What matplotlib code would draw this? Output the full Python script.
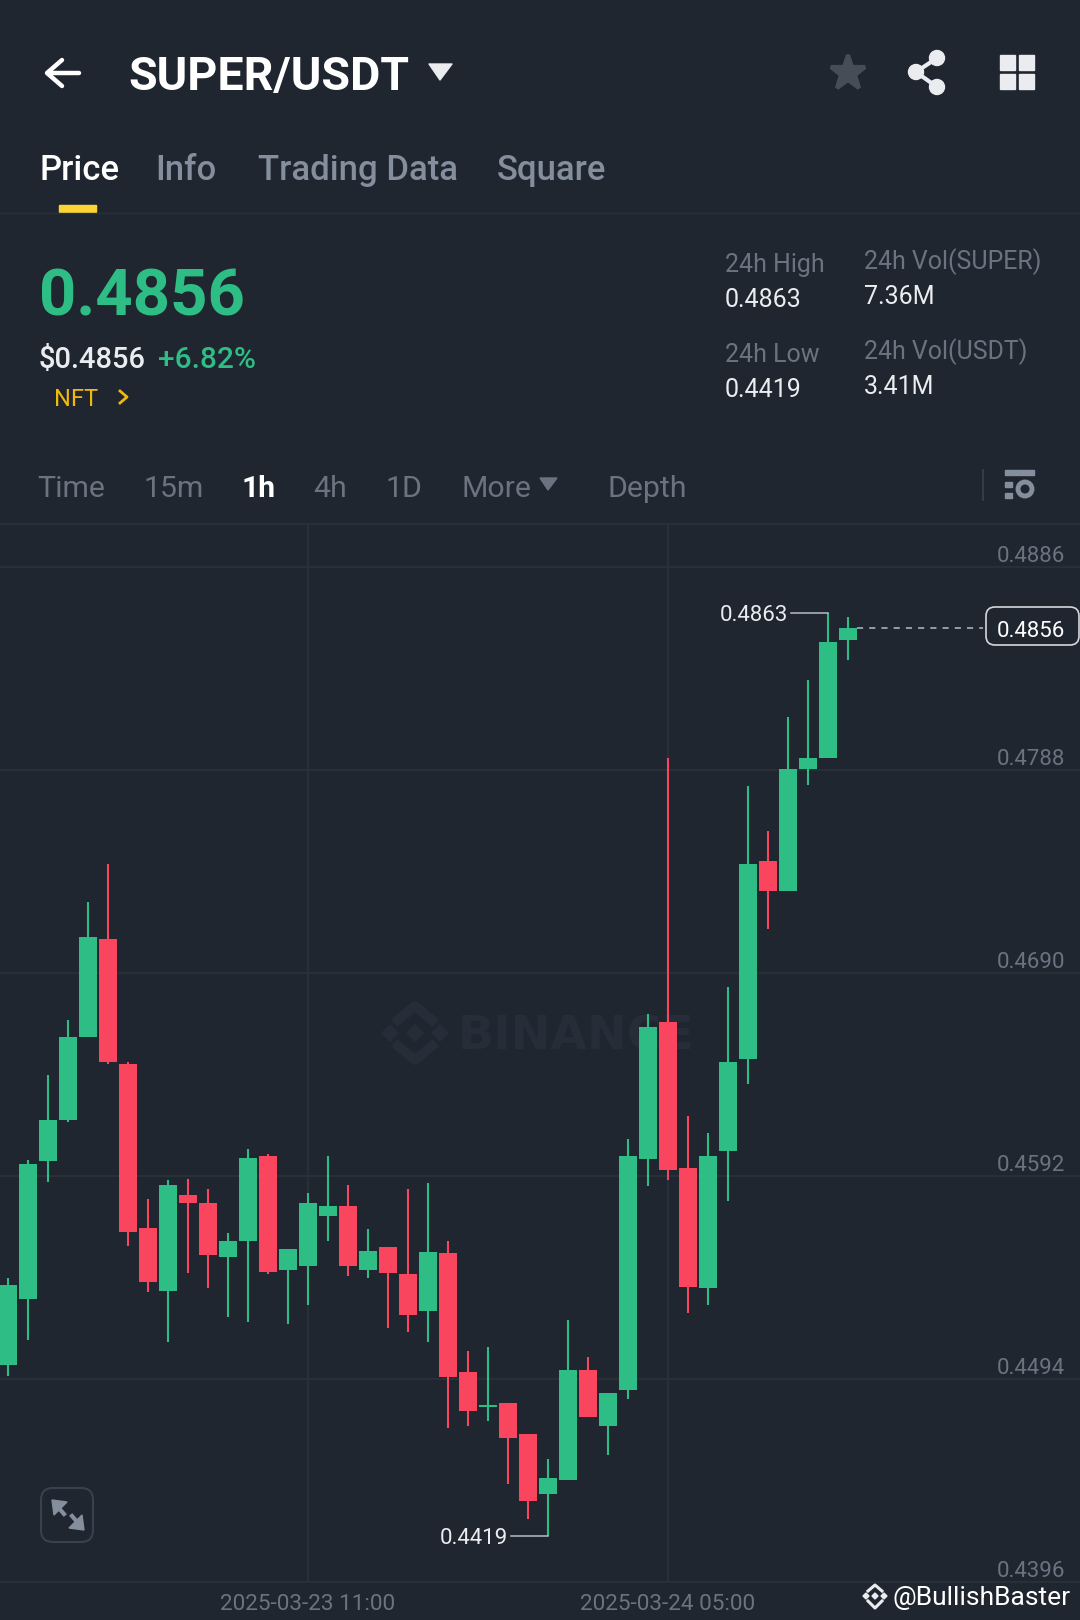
#!/usr/bin/env python3
import matplotlib
matplotlib.use("Agg")
import matplotlib.pyplot as plt
from matplotlib.patches import Circle, FancyBboxPatch, Polygon, Rectangle

# candles, oldest first (1h)
opens = [0.45005, 0.45327, 0.45989, 0.46187, 0.46591, 0.47061, 0.46460, 0.45667, 0.45365, 0.45827,
         0.45787, 0.45527, 0.45606, 0.46017, 0.45467, 0.45486, 0.45727, 0.45775, 0.45467, 0.45575,
         0.45446, 0.45265, 0.45546, 0.44973, 0.44804, 0.44823, 0.44672, 0.44382, 0.44453, 0.44984,
         0.44713, 0.44885, 0.45999, 0.46660, 0.45956, 0.45377, 0.46039, 0.46481, 0.47441, 0.47294,
         0.47885, 0.47936, 0.48507]
highs = [0.45424, 0.45998, 0.46408, 0.46670, 0.47241, 0.47423, 0.46468, 0.45806, 0.45898, 0.45906,
         0.45858, 0.45644, 0.46048, 0.46027, 0.45565, 0.45837, 0.46017, 0.45877, 0.45665, 0.45575,
         0.45858, 0.45887, 0.45606, 0.45073, 0.45092, 0.44823, 0.44672, 0.44551, 0.45225, 0.45044,
         0.44872, 0.46096, 0.46699, 0.47936, 0.46208, 0.46127, 0.46832, 0.47803, 0.47584, 0.48136,
         0.48315, 0.48638, 0.48616]
lows = [0.44955, 0.45127, 0.45889, 0.46179, 0.46591, 0.46460, 0.45579, 0.45358, 0.45117, 0.45448,
        0.45377, 0.45237, 0.45215, 0.45446, 0.45205, 0.45296, 0.45606, 0.45437, 0.45427, 0.45187,
        0.45165, 0.45117, 0.44704, 0.44713, 0.44734, 0.44432, 0.44263, 0.44182, 0.44453, 0.44754,
        0.44573, 0.44844, 0.45868, 0.45898, 0.45256, 0.45294, 0.45798, 0.46361, 0.47113, 0.47294,
        0.47807, 0.47936, 0.48409]
closes = [0.45394, 0.45977, 0.46187, 0.46589, 0.47070, 0.46470, 0.45648, 0.45406, 0.45877, 0.45787,
          0.45536, 0.45605, 0.46006, 0.45456, 0.45565, 0.45787, 0.45775, 0.45486, 0.45555, 0.45448,
          0.45246, 0.45554, 0.44946, 0.44784, 0.44815, 0.44654, 0.44351, 0.44461, 0.44984, 0.44754,
          0.44872, 0.46016, 0.46639, 0.45949, 0.45385, 0.46016, 0.46468, 0.47423, 0.47294, 0.47885,
          0.47936, 0.48496, 0.48566]

price_ticks = [0.4886, 0.4788, 0.4690, 0.4592, 0.4494, 0.4396]
date_ticks = [15, 33]
date_labels = ["2025-03-23 11:00", "2025-03-24 05:00"]
high_text = "0.4863"
low_text = "0.4419"
high_idx = 41
low_idx = 27

BG = "#1f2630"
GRID = "#2b3139"
GREEN = "#2ebd85"
RED = "#f9465e"
GREY = "#848e9c"
DIM = "#6b7380"
WHITE = "#eaecef"
FONT = "Roboto"

plt.rcParams["font.family"] = [FONT, "DejaVu Sans"]

fig = plt.figure(figsize=(10.8, 16.2), dpi=100, facecolor=BG)

# page furniture, in pixels
ui = fig.add_axes([0, 0, 1, 1], zorder=0)
ui.set_xlim(0, 1080)
ui.set_ylim(1620, 0)
ui.axis("off")


def label(x, y, s, size, color=WHITE, weight="normal", ha="left"):
    ui.text(x, y, s, fontsize=size, color=color, fontweight=weight, ha=ha, va="baseline")


# top bar
ui.plot([79, 48], [73, 73], color="white", lw=3.2, solid_capstyle="round")
ui.plot([62, 47, 62], [60, 73, 86], color="white", lw=3.2, solid_capstyle="round", solid_joinstyle="round")
label(128, 90, "SUPER/USDT", 33.5, "white", "bold")
ui.add_patch(Polygon([(429, 64), (452, 64), (440, 80)], color="#eaecef", joinstyle="round"))
ui.plot([848], [73], marker="*", ms=26, color="#474d57", mec="#474d57", mew=3, mfc="#474d57")
for cx, cy in [(916, 72), (937, 58), (937, 87)]:
    ui.add_patch(Circle((cx, cy), 7.5, color="#eaecef"))
ui.plot([937, 916, 937], [58, 72, 87], color="#eaecef", lw=3)
for sx, sy in [(1000, 55), (1019, 55), (1000, 74), (1019, 74)]:
    ui.add_patch(Rectangle((sx, sy), 15, 15, color="#eaecef"))

# tabs
label(39, 180, "Price", 25, "white", "medium")
label(155, 180, "Info", 25, GREY, "medium")
label(258, 180, "Trading Data", 25, GREY, "medium")
label(497, 180, "Square", 25, GREY, "medium")
ui.add_patch(Rectangle((59, 205), 37, 7, color="#fcd535"))
ui.plot([0, 1080], [213, 213], color=GRID, lw=1)

# price block
label(39, 316, "0.4856", 47, GREEN, "bold")
label(39, 368, "$0.4856", 21, WHITE, "medium")
label(158, 368, "+6.82%", 21.5, GREEN, "medium")
label(54, 406, "NFT", 17, "#f0b90b")
ui.plot([120, 127, 120], [391, 397, 403], color="#f0b90b", lw=2)

label(725, 272, "24h High", 18, DIM)
label(725, 307, "0.4863", 18, WHITE)
label(725, 362, "24h Low", 18, DIM)
label(725, 397, "0.4419", 18, WHITE)
label(864, 269, "24h Vol(SUPER)", 17.9, DIM)
label(864, 304, "7.36M", 18, WHITE)
label(864, 359, "24h Vol(USDT)", 17.9, DIM)
label(864, 394, "3.41M", 18, WHITE)

# interval row
label(37, 497, "Time", 21.8, DIM)
label(144, 497, "15m", 21.8, DIM)
label(242, 497, "1h", 21.8, "white", "bold")
label(313, 497, "4h", 21.8, DIM)
label(386, 497, "1D", 21.8, DIM)
label(461, 497, "More", 21.8, DIM)
ui.add_patch(Polygon([(540, 478), (557, 478), (548, 490)], color=DIM))
label(607, 497, "Depth", 21.8, DIM)
ui.plot([983, 983], [470, 500], color="#3a414c", lw=1.2)
ui.add_patch(Rectangle((1005, 470), 29, 5, color=GREY))
ui.add_patch(Rectangle((1005, 482), 7, 5, color=GREY))
ui.add_patch(Rectangle((1005, 493), 7, 5, color=GREY))
ui.add_patch(Circle((1025, 489), 7, facecolor=BG, edgecolor=GREY, lw=3.5))

# faint watermark, sits under the candles
WM = "#272d38"
for cx, cy in [(415, 1033), (390, 1033), (440, 1033)]:
    ui.add_patch(Polygon([(cx - 8, cy), (cx, cy - 8), (cx + 8, cy), (cx, cy + 8)], color=WM))
ui.plot([398, 415, 432], [1020, 1006, 1020], color=WM, lw=7)
ui.plot([398, 415, 432], [1046, 1060, 1046], color=WM, lw=7)
ui.text(458, 1050, "BINANCE", fontsize=34, color=WM, fontweight="bold", family="DejaVu Sans", va="baseline")

# expand button
ui.add_patch(FancyBboxPatch((41, 1488), 52, 54, boxstyle="round,pad=0,rounding_size=12",
                            facecolor="none", edgecolor="#3a414c", lw=1.5))
ui.add_patch(Polygon([(52, 1500), (67, 1502), (54, 1515)], color=GREY))
ui.add_patch(Polygon([(84, 1530), (69, 1528), (82, 1515)], color=GREY))
ui.plot([57, 64], [1506, 1514], color=GREY, lw=3)
ui.plot([79, 72], [1524, 1516], color=GREY, lw=3)

# last price box
ui.add_patch(FancyBboxPatch((986, 607), 93, 38, boxstyle="round,pad=0,rounding_size=9",
                            facecolor=BG, edgecolor="#d5d8dc", lw=1.2))
label(1065, 637, "0.4856", 16, "white", ha="right")

# reposted-by stamp
for cx, cy, r in [(875, 1596, 3), (866, 1596, 3), (884, 1596, 3)]:
    ui.add_patch(Polygon([(cx - r, cy), (cx, cy - r), (cx + r, cy), (cx, cy + r)], color="#eaecef"))
ui.plot([868, 875, 882], [1591, 1585, 1591], color="#eaecef", lw=2.2)
ui.plot([868, 875, 882], [1601, 1608, 1601], color="#eaecef", lw=2.2)
label(893, 1605, "@BullishBaster", 19, "white")

# chart, y runs 0.4396 at px 1581.7 up to px 524
ax = fig.add_axes([0, (1620 - 1581.7) / 1620, 1, (1581.7 - 524) / 1620], zorder=1)
ax.patch.set_visible(False)
ax.set_xlim(-0.4, 53.6)
ax.set_ylim(0.4396, 0.49066)

for side in ["top", "left", "right"]:
    ax.spines[side].set_visible(False)
ax.spines["bottom"].set_color(GRID)
ax.spines["bottom"].set_linewidth(1.2)

ax.set_yticks(price_ticks)
ax.set_yticklabels([])
ax.set_xticks(date_ticks)
ax.set_xticklabels(date_labels, fontsize=16.2, color=DIM)
ax.tick_params(axis="both", length=0)
ax.tick_params(axis="x", pad=9)
ax.grid(True, color=GRID, lw=1.2)
ax.set_axisbelow(True)

ax.plot([0, 1], [1, 1], transform=ax.transAxes, color=GRID, lw=1.2, clip_on=False)

for p in price_ticks:
    ax.annotate(f"{p:.4f}", xy=(1065 / 1080, p), xycoords=("axes fraction", "data"),
                xytext=(0, 3.6), textcoords="offset points",
                ha="right", va="baseline", fontsize=16, color=DIM)

for i in range(len(opens)):
    up = closes[i] >= opens[i]
    col = GREEN if up else RED
    ax.vlines(i, lows[i], highs[i], color=col, lw=1.5, zorder=3)
    ax.bar(i, abs(closes[i] - opens[i]), bottom=min(opens[i], closes[i]), width=0.87, color=col, zorder=4)

# high and low callouts
ax.plot([high_idx - 1.85, high_idx], [highs[high_idx]] * 2, color="#b7bdc6", lw=1.1, zorder=5)
ax.annotate(high_text, xy=(high_idx - 2.0, highs[high_idx]), xytext=(0, -6),
            textcoords="offset points", ha="right", va="baseline", fontsize=16, color=WHITE)
ax.plot([low_idx - 1.85, low_idx], [lows[low_idx]] * 2, color="#b7bdc6", lw=1.1, zorder=5)
ax.annotate(low_text, xy=(low_idx - 2.0, lows[low_idx]), xytext=(0, -6),
            textcoords="offset points", ha="right", va="baseline", fontsize=16, color=WHITE)

# dashed line from the last candle to the price box
ax.plot([42.45, 48.75], [closes[-1]] * 2, color="#b7bdc6", lw=1.1, dashes=(4, 4), zorder=5)

fig.savefig("out.png", dpi=100, facecolor=BG)
